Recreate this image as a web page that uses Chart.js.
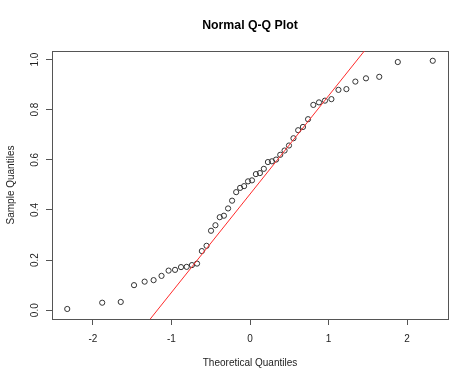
<!DOCTYPE html>
<html>
<head>
<meta charset="utf-8">
<script src="https://cdn.jsdelivr.net/npm/chart.js@4.4.0/dist/chart.umd.min.js"></script>
<style>
  html, body { margin: 0; padding: 0; background: #fff; }
  canvas { display: block; }
</style>
</head>
<body>
<canvas id="grafico" width="474" height="383"></canvas>
<script>
// theoretical quantiles (x) and sample quantiles (y)
let teoricos = [-2.326, -1.881, -1.645, -1.476, -1.341, -1.227, -1.126, -1.036, -0.954, -0.878,
                -0.806, -0.739, -0.674, -0.613, -0.553, -0.496, -0.440, -0.385, -0.332, -0.279,
                -0.228, -0.176, -0.126, -0.075, -0.025, 0.025, 0.075, 0.126, 0.176, 0.228,
                0.279, 0.332, 0.385, 0.440, 0.496, 0.553, 0.613, 0.674, 0.739, 0.806,
                0.878, 0.954, 1.036, 1.126, 1.227, 1.341, 1.476, 1.645, 1.881, 2.326];

let muestra = [0.005, 0.030, 0.033, 0.100, 0.114, 0.120, 0.137, 0.158, 0.161, 0.172,
               0.173, 0.180, 0.186, 0.236, 0.257, 0.317, 0.339, 0.371, 0.377, 0.406,
               0.437, 0.471, 0.488, 0.495, 0.514, 0.518, 0.543, 0.547, 0.564, 0.591,
               0.594, 0.601, 0.620, 0.637, 0.657, 0.686, 0.718, 0.731, 0.762, 0.819,
               0.829, 0.836, 0.842, 0.879, 0.882, 0.912, 0.925, 0.931, 0.990, 0.995];

let ticksX = [-2, -1, 0, 1, 2];
let ticksY = [0.0, 0.2, 0.4, 0.6, 0.8, 1.0];

let titulo = 'Normal Q-Q Plot',
    tituloX = 'Theoretical Quantiles',
    tituloY = 'Sample Quantiles';

// qqline: through the sample quartiles against qnorm(0.25) / qnorm(0.75), like R
function cuantil(arr, p) {
    let s = arr.slice().sort((a, b) => a - b);
    let h = (s.length - 1) * p, lo = Math.floor(h);
    return s[lo] + (h - lo) * (s[Math.min(lo + 1, s.length - 1)] - s[lo]);
}
let x25 = -0.6745, x75 = 0.6745;
let y25 = cuantil(muestra, 0.25), y75 = cuantil(muestra, 0.75);
let pendiente = (y75 - y25) / (x75 - x25);
let intercepto = y25 - pendiente * x25;

let xMin = -2.52, xMax = 2.52, yMin = -0.035, yMax = 1.034;

let fuente = '"Liberation Sans", Arial, sans-serif';
let gris = '#555';

let puntos = teoricos.map((t, i) => ({ x: t, y: muestra[i] }));
let linea = [xMin, xMax].map(t => ({ x: t, y: intercepto + pendiente * t }));

let ctx = document.getElementById('grafico');
let myChart = new Chart(ctx, {
    type: 'scatter',
    data: {
        datasets: [{
            data: linea,
            showLine: true,
            borderColor: '#ff2a2a',
            borderWidth: 1,
            pointRadius: 0
        }, {
            data: puntos,
            pointRadius: 2.6,
            pointBorderWidth: 1,
            pointBorderColor: '#333',
            pointBackgroundColor: 'rgba(0,0,0,0)'
        }]
    },
    options: {
        responsive: false,
        animation: false,
        layout: { padding: 0 },
        plugins: {
            legend: { display: false },
            tooltip: { enabled: false }
        },
        scales: {
            x: {
                type: 'linear',
                position: 'bottom',
                min: xMin,
                max: xMax,
                afterFit: s => { s.height = 64; },
                afterBuildTicks: s => { s.ticks = ticksX.map(v => ({ value: v })); },
                ticks: {
                    padding: 8,
                    color: '#222',
                    font: { family: fuente, size: 10 },
                    callback: v => String(v)
                },
                grid: { drawOnChartArea: false, drawTicks: true, tickLength: 6, color: gris },
                border: { display: true, color: gris },
                title: {
                    display: true,
                    text: tituloX,
                    color: '#222',
                    font: { family: fuente, size: 10 },
                    padding: { top: 0, bottom: 14 }
                }
            },
            y: {
                type: 'linear',
                position: 'left',
                min: yMin,
                max: yMax,
                afterFit: s => { s.width = 52; },
                afterBuildTicks: s => { s.ticks = ticksY.map(v => ({ value: v })); },
                ticks: {
                    padding: 4,
                    minRotation: 90,
                    maxRotation: 90,
                    crossAlign: 'center',
                    color: '#222',
                    font: { family: fuente, size: 10 },
                    callback: v => Number(v).toFixed(1)
                },
                grid: { drawOnChartArea: false, drawTicks: true, tickLength: 6, color: gris },
                border: { display: true, color: gris },
                title: {
                    display: true,
                    text: tituloY,
                    color: '#222',
                    font: { family: fuente, size: 10 },
                    padding: { top: 5, bottom: 0 }
                }
            },
            x2: {
                type: 'linear',
                position: 'top',
                afterFit: s => { s.height = 51; },
                ticks: { display: false },
                grid: { display: false },
                border: { display: true, color: gris },
                title: {
                    display: true,
                    text: titulo,
                    color: '#000',
                    font: { family: fuente, size: 12.3, weight: 'bold' },
                    padding: { top: 18, bottom: 0 }
                }
            },
            y2: {
                type: 'linear',
                position: 'right',
                afterFit: s => { s.width = 26; },
                ticks: { display: false },
                grid: { display: false },
                border: { display: true, color: gris }
            }
        }
    }
});
</script>
</body>
</html>
